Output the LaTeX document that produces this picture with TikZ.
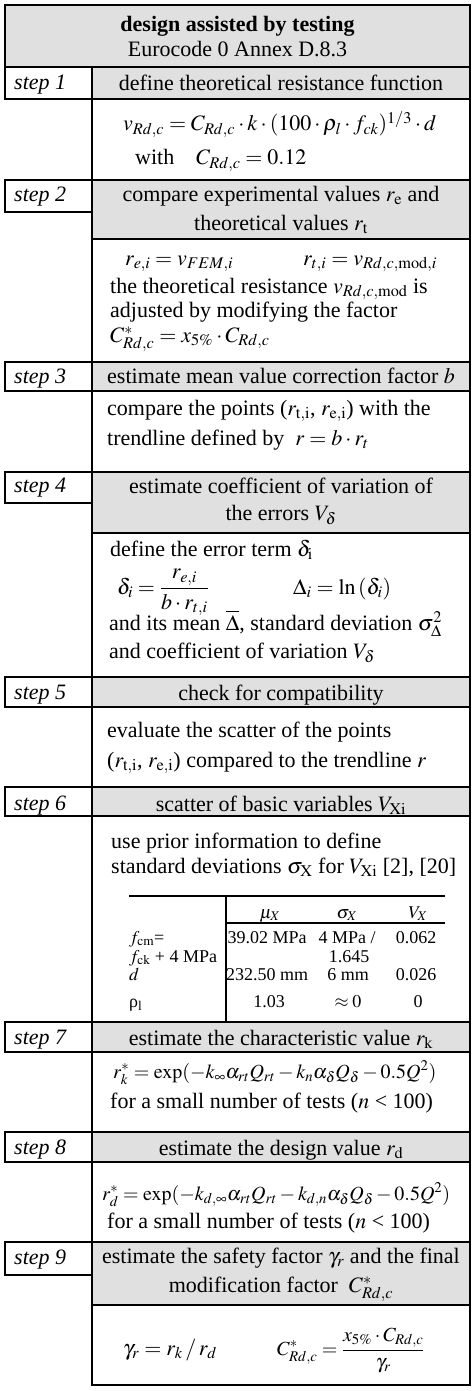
\documentclass[tikz,border=0pt]{standalone}
\usepackage{amssymb}
\usepackage{amsmath}
\usepackage{mathptmx}
\usepackage[no-math]{fontspec}
\setmainfont{Liberation Serif}
\definecolor{hdrgray}{RGB}{224,224,224}
\tikzset{
  boxline/.style={draw=black,line width=2pt},
  hdrbox/.style={boxline,fill=hdrgray},
  txt/.style={inner sep=0pt,font=\fontsize{22}{25}\selectfont},
  eqtxt/.style={inner sep=0pt,anchor=base west,font=\fontsize{20}{24}\selectfont},
  steptxt/.style={inner sep=0pt,anchor=base west,font=\fontsize{22}{25}\selectfont\itshape},
  tabtxt/.style={inner sep=0pt,anchor=base,font=\fontsize{18}{20}\selectfont},
  tabrule/.style={line width=1.3pt}
}

\begin{document}
\begin{tikzpicture}[x=1pt,y=1pt,yscale=-1]
\useasboundingbox (0,0) rectangle (474,1391);

%Shape: Rectangle [title]
\draw[hdrbox] (5,5) rectangle (470,67);

%Shape: Rectangle [step 1]
\draw[boxline] (5,67) rectangle (92,99);
\draw[hdrbox] (92,67) rectangle (470,99);
\draw[boxline] (92,99) rectangle (470,180);
%Shape: Rectangle [step 2]
\draw[boxline] (5,180) rectangle (92,212);
\draw[hdrbox] (92,180) rectangle (470,239);
\draw[boxline] (92,239) rectangle (470,362);
%Shape: Rectangle [step 3]
\draw[boxline] (5,362) rectangle (92,391);
\draw[hdrbox] (92,362) rectangle (470,391);
\draw[boxline] (92,391) rectangle (470,472);
%Shape: Rectangle [step 4]
\draw[boxline] (5,472) rectangle (92,503);
\draw[hdrbox] (92,472) rectangle (470,533);
\draw[boxline] (92,533) rectangle (470,677);
%Shape: Rectangle [step 5]
\draw[boxline] (5,677) rectangle (92,707);
\draw[hdrbox] (92,677) rectangle (470,707);
\draw[boxline] (92,707) rectangle (470,787);
%Shape: Rectangle [step 6]
\draw[boxline] (5,787) rectangle (92,816);
\draw[hdrbox] (92,787) rectangle (470,816);
\draw[boxline] (92,816) rectangle (470,1022);
%Shape: Rectangle [step 7]
\draw[boxline] (5,1022) rectangle (92,1052);
\draw[hdrbox] (92,1022) rectangle (470,1052);
\draw[boxline] (92,1052) rectangle (470,1132);
%Shape: Rectangle [step 8]
\draw[boxline] (5,1132) rectangle (92,1162);
\draw[hdrbox] (92,1132) rectangle (470,1162);
\draw[boxline] (92,1162) rectangle (470,1242);
%Shape: Rectangle [step 9]
\draw[boxline] (5,1242) rectangle (92,1275);
\draw[hdrbox] (92,1242) rectangle (470,1305);
\draw[boxline] (92,1305) rectangle (470,1385);

%Straight Lines [table rules]
\draw[tabrule] (129,896) -- (445,896);
\draw[tabrule] (226,923) -- (445,923);
\draw[tabrule] (226,896) -- (226,1022);

% Text Node
\node[txt,anchor=base,font=\fontsize{22}{25}\selectfont\bfseries] (title) at (237.5,32) {design assisted by testing};
% Text Node
\node[txt,anchor=base] (annex) at (237.5,57) {Eurocode 0 Annex D.8.3};

% Text Node
\node[steptxt] (lbl1) at (14,90) {step 1};
\node[txt,anchor=base] (head1) at (281,91) {define theoretical resistance function};
\node[txt,anchor=base west] (eq1) at (123,131) {$v_{Rd,c}=C_{Rd,c}\cdot k\cdot(100\cdot\rho_l\cdot f_{ck})^{1/3}\cdot d$};
\node[txt,anchor=base west] (with1) at (135,165) {with\quad $C_{Rd,c}=0.12$};

% Text Node
\node[steptxt] (lbl2) at (14,201) {step 2};
\node[txt,anchor=base] (head2a) at (281,201) {compare experimental values $r_{\mathrm{e}}$ and};
\node[txt,anchor=base] (head2b) at (281,230) {theoretical values $r_{\mathrm{t}}$};
\node[txt,anchor=base west] (eq2a) at (125,265) {$r_{e,i}=v_{FEM,i}$};
\node[txt,anchor=base west] (eq2b) at (303,265) {$r_{t,i}=v_{Rd,c,\mathrm{mod},i}$};
\node[txt,anchor=base west] (body2a) at (110,293) {the theoretical resistance $v_{Rd,c,\mathrm{mod}}$ is};
\node[txt,anchor=base west] (body2b) at (110,317) {adjusted by modifying the factor};
\node[txt,anchor=base west] (body2c) at (110,342) {$C^{*}_{Rd,c}=x_{5\%}\cdot C_{Rd,c}$};

% Text Node
\node[steptxt] (lbl3) at (14,383) {step 3};
\node[txt,anchor=base] (head3) at (281,383) {estimate mean value correction factor $b$};
\node[txt,anchor=base west] (body3a) at (107,415) {compare the points ($r_{\mathrm{t,i}}$, $r_{\mathrm{e,i}}$) with the};
\node[txt,anchor=base west] (body3b) at (107,445) {trendline defined by\ \ $r=b\cdot r_t$};

% Text Node
\node[steptxt] (lbl4) at (14,492) {step 4};
\node[txt,anchor=base] (head4a) at (281,493) {estimate coefficient of variation of};
\node[txt,anchor=base] (head4b) at (281,520) {the errors $V_{\delta}$};
\node[txt,anchor=base west] (body4a) at (110,556) {define the error term $\delta_{\mathrm{i}}$};
\node[txt,anchor=base west] (eq4a) at (117,594) {$\delta_i=\dfrac{r_{e,i}}{b\cdot r_{t,i}}$};
\node[txt,anchor=base west] (eq4b) at (293,594) {$\Delta_i=\ln\left(\delta_i\right)$};
\node[txt,anchor=base west] (body4b) at (109,630) {and its mean $\overline{\Delta}$, standard deviation $\sigma^2_{\Delta}$};
\node[txt,anchor=base west] (body4c) at (109,658) {and coefficient of variation $V_{\delta}$};

% Text Node
\node[steptxt] (lbl5) at (14,699) {step 5};
\node[txt,anchor=base] (head5) at (281,700) {check for compatibility};
\node[txt,anchor=base west] (body5a) at (107,737) {evaluate the scatter of the points};
\node[txt,anchor=base west] (body5b) at (107,767) {($r_{\mathrm{t,i}}$, $r_{\mathrm{e,i}}$) compared to the trendline $r$};

% Text Node
\node[steptxt] (lbl6) at (14,810) {step 6};
\node[txt,anchor=base] (head6) at (281,811) {scatter of basic variables $V_{\mathrm{Xi}}$};
\node[txt,anchor=base west] (body6a) at (111,848) {use prior information to define};
\node[txt,anchor=base west] (body6b) at (111,873) {standard deviations $\sigma_{\mathrm{X}}$ for $V_{\mathrm{Xi}}$ [2], [20]};

% Text Node [table]
\node[tabtxt] (thmu) at (270,918) {$\mu_X$};
\node[tabtxt] (thsig) at (347,918) {$\sigma_X$};
\node[tabtxt] (thV) at (418,918) {$V_X$};
\node[tabtxt,anchor=base west] (tfcm) at (129,943) {$f_{\mathrm{cm}}$=};
\node[tabtxt,anchor=base west] (tfck) at (129,962) {$f_{\mathrm{ck}}$ + 4 MPa};
\node[tabtxt,anchor=base west] (td) at (129,980) {$d$};
\node[tabtxt,anchor=base west] (trho) at (129,1007) {ρ\textsubscript{l}};
\node[tabtxt] (tmu1) at (267,943) {39.02 MPa};
\node[tabtxt] (tmu2) at (267,980) {232.50 mm};
\node[tabtxt] (tmu3) at (269,1007) {1.03};
\node[tabtxt] (tsig1) at (347,943) {4 MPa /};
\node[tabtxt] (tsig1b) at (349,962) {1.645};
\node[tabtxt] (tsig2) at (348,980) {6 mm};
\node[tabtxt] (tsig3) at (348,1007) {$\approx 0$};
\node[tabtxt] (tV1) at (416,943) {0.062};
\node[tabtxt] (tV2) at (416,980) {0.026};
\node[tabtxt] (tV3) at (418,1007) {0};

% Text Node
\node[steptxt] (lbl7) at (14,1044) {step 7};
\node[txt,anchor=base] (head7) at (281,1045) {estimate the characteristic value $r_{\mathrm{k}}$};
\node[eqtxt] (eq7) at (113,1078) {$r_k^{*}=\exp(-k_{\infty}\alpha_{rt}Q_{rt}-k_n\alpha_{\delta}Q_{\delta}-0.5Q^2)$};
\node[txt,anchor=base west] (body7) at (110,1108) {for a small number of tests ($n$ < 100)};

% Text Node
\node[steptxt] (lbl8) at (14,1154) {step 8};
\node[txt,anchor=base] (head8) at (281,1155) {estimate the design value $r_{\mathrm{d}}$};
\node[eqtxt] (eq8) at (102,1200) {$r_d^{*}=\exp(-k_{d,\infty}\alpha_{rt}Q_{rt}-k_{d,n}\alpha_{\delta}Q_{\delta}-0.5Q^2)$};
\node[txt,anchor=base west] (body8) at (107,1228) {for a small number of tests ($n$ < 100)};

% Text Node
\node[steptxt] (lbl9) at (14,1264) {step 9};
\node[txt,anchor=base] (head9a) at (281,1263) {estimate the safety factor $\gamma_r$ and the final};
\node[txt,anchor=base] (head9b) at (281,1292) {modification factor\ \ $C^{*}_{Rd,c}$};
\node[txt,anchor=base west] (eq9a) at (123,1355) {$\gamma_r=r_k\,/\,r_d$};
\node[eqtxt] (eq9b) at (277,1355) {$C^{*}_{Rd,c}=\dfrac{x_{5\%}\cdot C_{Rd,c}}{\gamma_r}$};

\end{tikzpicture}
\end{document}
